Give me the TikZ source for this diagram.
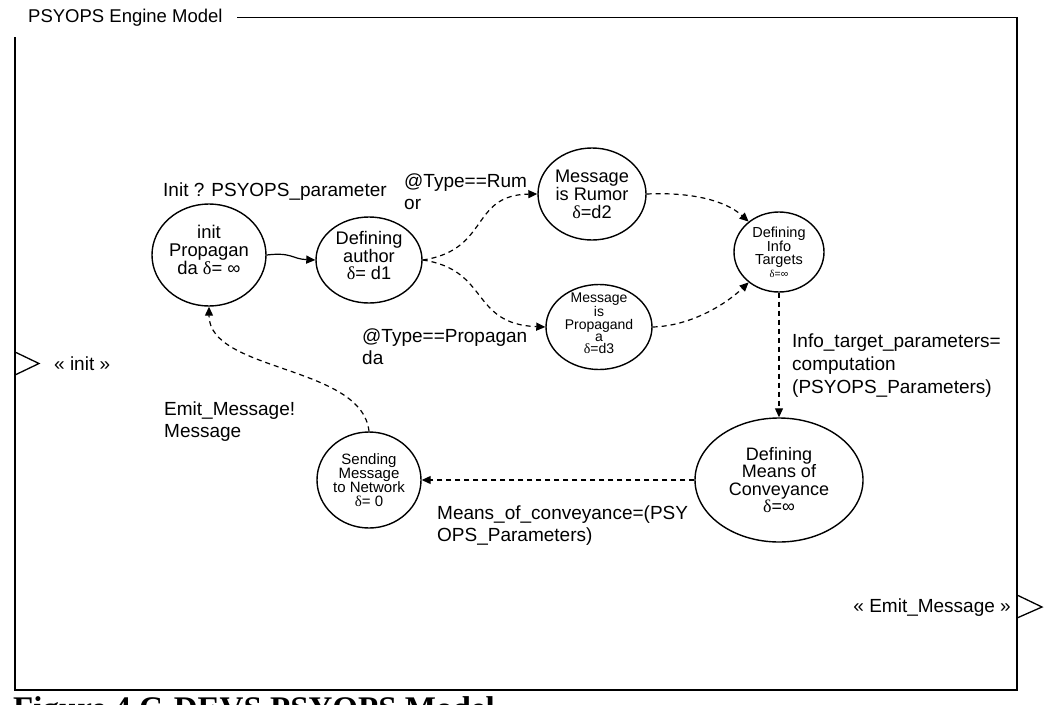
\documentclass[tikz,border=0pt]{standalone}
\usepackage{fontspec}
\setmainfont{Liberation Sans}
\newfontfamily\sym{Liberation Serif}
\newfontfamily\capfont{Liberation Serif}
\usetikzlibrary{shapes.geometric,arrows.meta}
\newcommand{\lowstrut}[1]{\rule[-#1]{0pt}{1pt}}
\begin{document}
\begin{tikzpicture}[x=1pt,y=-1pt,
  st/.style={draw, ellipse, line width=1.4pt, inner sep=-12pt, align=center},
  lbl/.style={inner sep=0pt, align=left, font=\fontsize{19}{22}\selectfont},
  tr/.style={line width=1.2pt, dash pattern=on 5pt off 4pt, -{Triangle[length=9pt,width=8pt]}},
  solidtr/.style={line width=1.2pt, -{Triangle[length=9pt,width=8pt]}},
  port/.style={line width=1.3pt, line join=miter},
  frame/.style={line width=2pt}
]
\useasboundingbox (0,0) rectangle (1048,704);
\clip (0,0) rectangle (1048,704);

% frame
\draw[frame] (15,37) -- (15,690) -- (1017,690) -- (1017,17);
\draw[line width=1pt] (1017,17) -- (237,17);
\node[anchor=west, inner sep=0pt, font=\fontsize{18.5}{22}\selectfont] (title) at (28,18) {PSYOPS Engine Model};

% ports
\draw[port] (15,352) -- (39,363.5) -- (15,375);
\node[lbl, anchor=west] (pinit) at (54,364) {« init »};
\draw[port] (1017,595) -- (1042,607) -- (1017,618);
\node[lbl, anchor=east] (pemit) at (1011,608) {« Emit\_Message »};

% states
\node[st, minimum width=114pt, minimum height=102pt, font=\fontsize{18.4}{18}\selectfont] (init) at (209,255) {init\\Propagan\\da {\sym δ}= ∞\lowstrut{11pt}};
\node[st, minimum width=106pt, minimum height=86pt, font=\fontsize{18.2}{16.5}\selectfont] (author) at (369,260) {Defining\\author\\{\sym δ}= d1\lowstrut{9pt}};
\node[st, minimum width=108pt, minimum height=92pt, font=\fontsize{18.2}{18}\selectfont] (rumor) at (592,194) {Message\\is Rumor\\{\sym δ}=d2};
\node[st, minimum width=106pt, minimum height=85pt, font=\fontsize{14}{12.4}\selectfont] (prop) at (599,327) {Message\\is\\Propagand\\a\\{\sym δ}=d3\lowstrut{7pt}};
\node[st, minimum width=90pt, minimum height=80pt, font=\fontsize{14.5}{12.6}\selectfont] (info) at (779,252) {Defining\\Info\\Targets\\{\fontsize{10.5}{10}\selectfont{\sym δ}=∞}};
\node[st, minimum width=168pt, minimum height=124pt, font=\fontsize{18}{17.5}\selectfont] (means) at (779,480) {Defining\\Means of\\Conveyance\\{\sym δ}=∞};
\node[st, minimum width=104pt, minimum height=96pt, font=\fontsize{15}{14}\selectfont] (send) at (369,480) {Sending\\Message\\to Network\\{\sym δ}= 0};

% labels
\node[lbl, anchor=west] (linit) at (163,192) {Init ? PSYOPS\_parameter};
\node[lbl, anchor=west] (lrum) at (404,192) {@Type==Rum\\or};
\node[lbl, anchor=west] (lprop) at (362,347) {@Type==Propagan\\da};
\node[lbl, anchor=west, font=\fontsize{19}{23}\selectfont] (linfo) at (792,366) {Info\_target\_parameters=\\computation\\(PSYOPS\_Parameters)};
\node[lbl, anchor=west] (lmeans) at (437,526) {Means\_of\_conveyance=(PSY\\OPS\_Parameters)};
\node[lbl, anchor=west] (lemit) at (164,422) {Emit\_Message!\\Message};

% transitions
\draw[solidtr] (init.east) .. controls (292,252) and (292,259) .. (author.west);
\draw[tr] (author.east) .. controls (490,250) and (470,195) .. (rumor.west);
\draw[tr] (author.east) .. controls (490,270) and (470,324) .. (prop.west);
\draw[tr] (rumor.east) .. controls (690,192) and (725,200) .. (info.135);
\draw[tr] (prop.east) .. controls (690,326) and (725,305) .. (info.225);
\draw[tr] (info.south) -- (means.north);
\draw[tr] (means.west) -- (send.east);
\draw[tr] (send.north) .. controls (362,365) and (209,372) .. (init.south);

% caption (cut by the page edge)
\node[anchor=base west, inner sep=0pt, font=\capfont\bfseries\fontsize{33}{40}\selectfont] (cap) at (13,719) {Figure 4 C-DEVS PSYOPS Model};
\end{tikzpicture}
\end{document}
